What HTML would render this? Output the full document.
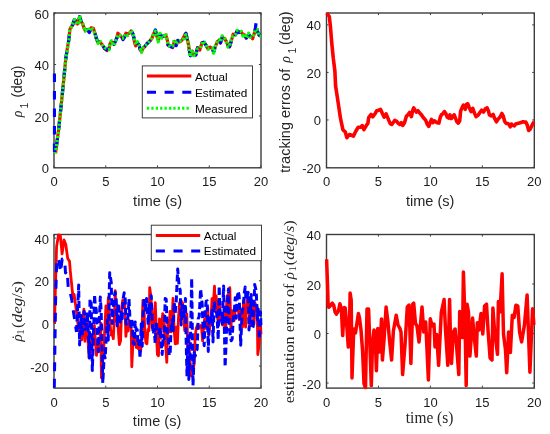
<!DOCTYPE html>
<html><head><meta charset="utf-8"><style>
html,body{margin:0;padding:0;background:#fff;}
body{width:550px;height:434px;overflow:hidden;}
svg{display:block;}
</style></head><body>
<svg width="550" height="434" viewBox="0 0 550 434">
<rect width="550" height="434" fill="#fff"/>
<defs>
<clipPath id="c1"><rect x="52.5" y="11.5" width="210" height="157.5"/></clipPath>
<clipPath id="c2"><rect x="325.0" y="11.5" width="210.79999999999995" height="157.5"/></clipPath>
<clipPath id="c3"><rect x="52.5" y="233.0" width="210" height="156.3"/></clipPath>
<clipPath id="c4"><rect x="325.0" y="233.0" width="210.79999999999995" height="156.3"/></clipPath>
</defs>
<!-- subplot 1 -->
<rect x="54" y="13" width="207" height="154.8" fill="none" stroke="#3d3d3d" stroke-width="1.4"/>
<line x1="54.00" y1="167.5" x2="54.00" y2="165.4" stroke="#3d3d3d" stroke-width="1"/>
<line x1="54.00" y1="13" x2="54.00" y2="15.1" stroke="#3d3d3d" stroke-width="1"/>
<line x1="105.75" y1="167.5" x2="105.75" y2="165.4" stroke="#3d3d3d" stroke-width="1"/>
<line x1="105.75" y1="13" x2="105.75" y2="15.1" stroke="#3d3d3d" stroke-width="1"/>
<line x1="157.50" y1="167.5" x2="157.50" y2="165.4" stroke="#3d3d3d" stroke-width="1"/>
<line x1="157.50" y1="13" x2="157.50" y2="15.1" stroke="#3d3d3d" stroke-width="1"/>
<line x1="209.25" y1="167.5" x2="209.25" y2="165.4" stroke="#3d3d3d" stroke-width="1"/>
<line x1="209.25" y1="13" x2="209.25" y2="15.1" stroke="#3d3d3d" stroke-width="1"/>
<line x1="261.00" y1="167.5" x2="261.00" y2="165.4" stroke="#3d3d3d" stroke-width="1"/>
<line x1="261.00" y1="13" x2="261.00" y2="15.1" stroke="#3d3d3d" stroke-width="1"/>
<line x1="54" y1="167.50" x2="56.1" y2="167.50" stroke="#3d3d3d" stroke-width="1"/>
<line x1="261" y1="167.50" x2="258.9" y2="167.50" stroke="#3d3d3d" stroke-width="1"/>
<line x1="54" y1="116.00" x2="56.1" y2="116.00" stroke="#3d3d3d" stroke-width="1"/>
<line x1="261" y1="116.00" x2="258.9" y2="116.00" stroke="#3d3d3d" stroke-width="1"/>
<line x1="54" y1="64.50" x2="56.1" y2="64.50" stroke="#3d3d3d" stroke-width="1"/>
<line x1="261" y1="64.50" x2="258.9" y2="64.50" stroke="#3d3d3d" stroke-width="1"/>
<line x1="54" y1="13.00" x2="56.1" y2="13.00" stroke="#3d3d3d" stroke-width="1"/>
<line x1="261" y1="13.00" x2="258.9" y2="13.00" stroke="#3d3d3d" stroke-width="1"/>
<g fill="none" stroke-linejoin="round" clip-path="url(#c1)">
<polyline points="55.5,153.3 58.7,129.0 61.1,106.0 63.4,83.0 65.8,58.4 67.4,48.0 69.0,38.8 69.8,29.6 70.9,27.3 72.7,25.0 74.4,19.8 76.1,20.9 77.3,24.0 78.5,22.0 79.6,16.9 80.7,20.4 82.5,23.8 84.2,28.4 85.3,30.7 87.6,29.6 89.4,31.9 91.1,27.9 93.4,28.4 95.1,33.6 96.3,38.8 98.0,42.3 99.7,41.7 102.3,44.8 104.6,48.8 106.9,50.5 109.2,48.2 109.8,44.2 111.5,41.9 113.8,44.2 115.0,41.9 116.7,38.4 117.9,33.2 119.6,35.0 121.9,37.3 123.0,39.0 124.8,36.1 125.9,33.2 127.6,33.8 129.4,33.2 131.1,30.9 132.8,33.8 134.0,38.4 134.6,43.0 135.7,45.9 137.4,42.5 139.2,45.3 140.3,50.0 141.5,51.7 142.6,48.8 144.9,46.5 147.3,43.0 149.6,41.3 151.9,38.4 153.6,33.8 155.4,30.4 156.5,35.0 158.2,40.2 160.0,35.0 161.7,37.3 163.4,36.1 165.7,35.0 167.5,40.7 168.0,45.3 170.3,46.5 172.6,47.6 174.4,41.3 176.1,45.3 177.8,40.7 179.6,41.9 181.9,40.2 184.2,36.1 185.9,33.2 187.0,38.4 188.2,43.0 189.4,51.1 190.5,55.7 192.2,51.1 193.5,54.6 195.8,54.6 197.5,47.6 199.8,50.0 202.1,42.5 203.8,42.5 206.1,45.3 207.9,48.8 210.2,47.1 212.5,48.8 213.6,51.7 215.3,46.5 217.6,41.3 219.4,40.2 220.5,43.0 222.3,37.3 224.6,39.0 226.3,41.3 228.0,45.3 229.6,46.9 231.3,41.1 233.1,34.2 235.4,34.8 237.1,30.7 238.8,32.5 241.1,31.3 242.9,34.8 244.6,34.8 246.3,38.2 248.6,34.8 250.3,35.9 252.6,38.8 254.4,33.0 255.5,28.4 257.3,30.7 259.0,35.3 261.0,34.8" stroke="#ff0000" stroke-width="3.2"/>
<polyline points="54.4,73.4 54.4,153.3 55.5,153.3 58.7,129.0 61.1,106.0 63.4,82.9 65.8,58.5 67.4,48.5 69.0,38.8 69.8,29.6 70.9,27.4 72.7,24.6 74.4,19.8 76.1,21.1 77.3,24.4 78.5,21.5 79.6,16.7 80.7,19.9 82.5,24.2 84.2,28.6 85.3,30.2 87.6,30.2 89.4,32.5 91.1,28.1 93.4,28.5 95.1,33.2 96.3,38.2 98.0,42.3 99.7,41.2 102.3,44.4 104.6,48.5 106.9,49.9 109.2,48.2 109.8,44.1 111.5,42.3 113.8,44.2 115.0,42.1 116.7,38.4 117.9,33.4 119.6,34.9 121.9,37.0 123.0,39.6 124.8,36.7 125.9,33.6 127.6,34.0 129.4,33.0 131.1,30.6 132.8,33.5 134.0,37.9 134.6,43.3 135.7,45.8 137.4,42.9 139.2,45.2 140.3,50.5 141.5,52.1 142.6,48.2 144.9,46.2 147.3,43.5 149.6,41.3 151.9,39.0 153.6,33.7 155.4,29.9 156.5,35.2 158.2,40.5 160.0,34.7 161.7,36.8 163.4,35.9 165.7,35.6 167.5,41.0 168.0,44.8 170.3,46.2 172.6,47.1 174.4,40.8 176.1,45.7 177.8,40.3 179.6,42.0 181.9,40.1 184.2,35.7 185.9,33.5 187.0,38.0 188.2,43.2 189.4,50.6 190.5,55.6 192.2,50.8 193.5,54.3 195.8,55.2 197.5,48.0 199.8,49.8 202.1,43.0 203.8,42.2 206.1,45.2 207.9,49.2 210.2,47.3 212.5,48.3 213.6,52.3 215.3,46.2 217.6,41.0 219.4,40.5 220.5,42.8 222.3,37.1 224.6,38.5 226.3,40.8 228.0,45.4 229.6,46.6 231.3,41.2 233.1,34.0 235.4,34.7 237.1,31.3 238.8,32.5 241.1,31.4 242.9,35.2 244.6,34.4 246.3,37.8 248.6,35.3 250.3,36.3 252.6,38.5 254.4,32.6 255.2,30.0 256.2,21.5 257.0,27.0 257.3,31.2 259.0,34.9 261.0,35.3" stroke="#0000ff" stroke-width="3.2" stroke-dasharray="8.5 9" stroke-dashoffset="0"/>
<polyline points="55.5,153.3 58.7,129.0 61.1,106.0 63.4,83.4 65.8,59.2 67.4,49.0 69.0,40.3 69.8,30.4 70.9,28.7 72.7,23.4 74.4,19.7 76.1,22.4 77.3,24.5 78.5,23.4 79.6,15.6 80.7,20.3 82.5,22.9 84.2,28.5 85.3,31.0 87.6,27.9 89.4,30.9 91.1,27.2 93.4,29.8 95.1,34.5 96.3,37.6 98.0,43.3 99.7,40.5 102.3,45.2 104.6,47.5 106.9,48.8 109.2,49.5 109.8,43.2 111.5,40.9 113.8,45.8 115.0,43.2 116.7,37.7 117.9,34.8 119.6,35.1 121.9,37.9 123.0,38.0 124.8,37.6 125.9,33.8 127.6,35.4 129.4,34.5 131.1,30.2 132.8,33.3 134.0,37.3 134.6,41.8 135.7,44.4 137.4,41.8 139.2,45.7 140.3,48.3 141.5,52.3 142.6,48.2 144.9,45.9 147.3,44.1 149.6,41.2 151.9,37.8 153.6,33.7 155.4,31.1 156.5,33.5 158.2,41.8 160.0,33.4 161.7,38.1 163.4,37.3 165.7,33.4 167.5,41.7 168.0,44.8 170.3,46.8 172.6,45.9 174.4,39.8 176.1,44.2 177.8,42.2 179.6,40.9 181.9,41.1 184.2,37.6 185.9,34.7 187.0,37.9 188.2,42.5 189.4,51.2 190.5,56.6 192.2,49.8 193.5,55.4 195.8,55.6 197.5,48.8 199.8,48.4 202.1,44.0 203.8,41.1 206.1,44.8 207.9,49.2 210.2,48.5 212.5,48.3 213.6,53.1 215.3,46.7 217.6,40.7 219.4,39.6 220.5,41.9 222.3,35.9 224.6,37.8 226.3,41.9 228.0,47.0 229.6,45.7 231.3,39.6 233.1,35.9 235.4,34.9 237.1,30.4 238.8,31.6 241.1,31.6 242.9,35.9 244.6,34.6 246.3,37.9 248.6,33.3 250.3,37.3 252.6,37.2 254.4,33.0 255.5,29.6 257.3,29.4 259.0,36.1 261.0,36.3" stroke="#00ff00" stroke-width="3.4" stroke-dasharray="2.2 1.9" stroke-dashoffset="1"/>
</g>
<!-- subplot 2 -->
<rect x="326.5" y="13" width="207.79999999999995" height="154.8" fill="none" stroke="#3d3d3d" stroke-width="1.4"/>
<line x1="326.50" y1="167.5" x2="326.50" y2="165.4" stroke="#3d3d3d" stroke-width="1"/>
<line x1="326.50" y1="13" x2="326.50" y2="15.1" stroke="#3d3d3d" stroke-width="1"/>
<line x1="378.45" y1="167.5" x2="378.45" y2="165.4" stroke="#3d3d3d" stroke-width="1"/>
<line x1="378.45" y1="13" x2="378.45" y2="15.1" stroke="#3d3d3d" stroke-width="1"/>
<line x1="430.40" y1="167.5" x2="430.40" y2="165.4" stroke="#3d3d3d" stroke-width="1"/>
<line x1="430.40" y1="13" x2="430.40" y2="15.1" stroke="#3d3d3d" stroke-width="1"/>
<line x1="482.35" y1="167.5" x2="482.35" y2="165.4" stroke="#3d3d3d" stroke-width="1"/>
<line x1="482.35" y1="13" x2="482.35" y2="15.1" stroke="#3d3d3d" stroke-width="1"/>
<line x1="534.30" y1="167.5" x2="534.30" y2="165.4" stroke="#3d3d3d" stroke-width="1"/>
<line x1="534.30" y1="13" x2="534.30" y2="15.1" stroke="#3d3d3d" stroke-width="1"/>
<line x1="326.5" y1="167.50" x2="328.6" y2="167.50" stroke="#3d3d3d" stroke-width="1"/>
<line x1="534.3" y1="167.50" x2="532.1999999999999" y2="167.50" stroke="#3d3d3d" stroke-width="1"/>
<line x1="326.5" y1="119.96" x2="328.6" y2="119.96" stroke="#3d3d3d" stroke-width="1"/>
<line x1="534.3" y1="119.96" x2="532.1999999999999" y2="119.96" stroke="#3d3d3d" stroke-width="1"/>
<line x1="326.5" y1="72.42" x2="328.6" y2="72.42" stroke="#3d3d3d" stroke-width="1"/>
<line x1="534.3" y1="72.42" x2="532.1999999999999" y2="72.42" stroke="#3d3d3d" stroke-width="1"/>
<line x1="326.5" y1="24.88" x2="328.6" y2="24.88" stroke="#3d3d3d" stroke-width="1"/>
<line x1="534.3" y1="24.88" x2="532.1999999999999" y2="24.88" stroke="#3d3d3d" stroke-width="1"/>
<g fill="none" stroke-linejoin="round" clip-path="url(#c2)">
<polyline points="326.8,13.2 329.3,16.5 330.4,26.1 331.7,42.3 333.3,58.4 334.9,71.3 335.6,86.1 338.1,102.3 340.5,118.4 342.9,129.7 345.3,132.1 346.9,137.7 349.4,134.5 351.8,135.3 353.4,136.1 355.8,131.3 358.2,127.3 360.6,127.3 362.3,125.6 363.9,129.7 366.3,125.6 367.9,123.2 368.7,117.6 371.1,114.4 372.7,116.8 375.2,113.5 376.8,110.7 378.7,110.2 380.5,109.3 382.4,113.5 384.2,117.1 386.1,113.9 387.5,117.1 388.8,120.4 390.2,123.6 391.6,124.5 393.5,122.2 394.8,120.4 396.7,121.3 398.5,123.6 399.9,124.5 401.3,122.7 402.7,125.4 404.5,122.7 406.4,116.2 408.2,114.4 409.6,112.5 411.4,116.7 412.8,110.2 413.7,107.9 415.1,110.2 416.5,112.1 417.9,110.7 419.3,112.5 421.1,114.4 423.7,118.1 425.5,119.9 427.4,124.5 428.8,126.4 430.1,122.7 431.5,119.4 432.9,122.7 434.3,120.8 435.7,121.8 437.1,122.7 438.9,123.1 440.3,117.1 441.7,114.4 443.1,113.5 444.4,111.6 445.8,113.5 447.2,117.1 448.6,118.1 450.0,114.8 451.4,118.5 452.7,117.1 454.1,114.8 455.5,118.1 456.9,121.8 458.3,123.1 459.7,120.8 460.6,111.1 462.0,107.9 463.4,105.1 465.2,109.3 466.6,104.2 467.8,103.8 469.2,107.5 471.0,111.6 472.8,108.4 474.2,112.5 476.1,116.7 478.4,114.8 480.2,112.1 481.6,110.2 483.5,112.1 485.3,108.8 487.1,107.9 488.5,111.1 489.4,114.8 491.3,115.8 493.1,114.4 494.5,118.1 496.4,121.8 498.2,119.0 500.1,117.1 501.9,113.5 503.3,116.2 504.7,121.5 506.2,123.5 507.8,123.5 509.0,124.4 510.2,126.8 511.5,124.0 512.9,125.3 514.3,125.8 515.7,124.0 517.5,123.5 519.4,123.0 521.2,122.6 523.0,121.7 524.4,122.1 525.8,122.1 527.2,124.9 528.6,130.4 530.0,129.5 531.8,125.8 533.2,123.0 534.0,124.0" stroke="#ff0000" stroke-width="3.6"/>
</g>
<!-- subplot 3 -->
<rect x="54" y="234.5" width="207" height="153.60000000000002" fill="none" stroke="#3d3d3d" stroke-width="1.4"/>
<line x1="54.00" y1="387.8" x2="54.00" y2="385.7" stroke="#3d3d3d" stroke-width="1"/>
<line x1="54.00" y1="234.5" x2="54.00" y2="236.6" stroke="#3d3d3d" stroke-width="1"/>
<line x1="105.75" y1="387.8" x2="105.75" y2="385.7" stroke="#3d3d3d" stroke-width="1"/>
<line x1="105.75" y1="234.5" x2="105.75" y2="236.6" stroke="#3d3d3d" stroke-width="1"/>
<line x1="157.50" y1="387.8" x2="157.50" y2="385.7" stroke="#3d3d3d" stroke-width="1"/>
<line x1="157.50" y1="234.5" x2="157.50" y2="236.6" stroke="#3d3d3d" stroke-width="1"/>
<line x1="209.25" y1="387.8" x2="209.25" y2="385.7" stroke="#3d3d3d" stroke-width="1"/>
<line x1="209.25" y1="234.5" x2="209.25" y2="236.6" stroke="#3d3d3d" stroke-width="1"/>
<line x1="261.00" y1="387.8" x2="261.00" y2="385.7" stroke="#3d3d3d" stroke-width="1"/>
<line x1="261.00" y1="234.5" x2="261.00" y2="236.6" stroke="#3d3d3d" stroke-width="1"/>
<line x1="54" y1="366.05" x2="56.1" y2="366.05" stroke="#3d3d3d" stroke-width="1"/>
<line x1="261" y1="366.05" x2="258.9" y2="366.05" stroke="#3d3d3d" stroke-width="1"/>
<line x1="54" y1="323.40" x2="56.1" y2="323.40" stroke="#3d3d3d" stroke-width="1"/>
<line x1="261" y1="323.40" x2="258.9" y2="323.40" stroke="#3d3d3d" stroke-width="1"/>
<line x1="54" y1="280.75" x2="56.1" y2="280.75" stroke="#3d3d3d" stroke-width="1"/>
<line x1="261" y1="280.75" x2="258.9" y2="280.75" stroke="#3d3d3d" stroke-width="1"/>
<line x1="54" y1="238.10" x2="56.1" y2="238.10" stroke="#3d3d3d" stroke-width="1"/>
<line x1="261" y1="238.10" x2="258.9" y2="238.10" stroke="#3d3d3d" stroke-width="1"/>
<g fill="none" stroke-linejoin="round" clip-path="url(#c3)">
<polyline points="54.6,323.4 55.1,300.0 55.8,274.0 56.6,246.4 58.5,235.0 60.3,235.4 62.1,253.8 64.0,240.0 65.8,244.6 67.7,258.4 69.5,261.2 70.4,272.2 72.3,290.7 73.2,298.0 74.1,294.4 76.0,308.0 77.6,320.5 78.6,330.6 79.7,326.8 80.7,335.9 81.8,339.9 82.8,317.8 83.9,309.1 84.9,341.3 86.0,326.9 87.0,321.7 88.0,340.0 89.1,358.0 90.2,341.5 91.2,352.4 92.3,340.9 93.3,344.6 94.4,325.6 95.4,340.6 96.5,355.3 97.5,345.6 98.6,351.5 99.6,349.7 100.7,323.1 101.4,377.8 102.8,359.7 103.8,346.8 104.9,326.8 105.9,306.0 107.0,331.5 108.3,297.6 109.1,310.5 110.1,324.5 111.2,335.2 112.2,331.3 113.3,338.7 114.3,318.6 115.2,290.7 116.4,320.9 117.5,314.8 118.5,333.4 119.4,344.6 120.6,340.5 121.7,307.5 122.7,300.1 123.5,303.2 124.8,304.0 125.9,336.4 126.9,325.2 128.0,331.0 129.0,320.2 130.1,326.8 131.1,324.8 131.8,366.8 133.2,337.2 134.3,336.4 135.3,335.3 136.4,347.6 137.4,341.1 138.5,348.7 139.5,347.1 140.6,351.7 141.7,339.2 142.9,300.4 143.8,301.5 144.8,330.5 145.9,343.1 146.9,343.8 148.0,329.4 149.0,330.7 149.7,287.7 151.1,297.8 152.2,327.7 153.2,326.6 154.3,314.8 155.3,302.7 156.4,333.0 157.4,354.5 158.5,355.8 159.5,319.0 160.6,338.2 161.6,327.6 162.7,313.6 163.7,315.6 164.8,336.3 165.8,347.0 166.8,362.3 167.9,320.3 169.0,331.8 170.0,311.5 171.1,331.9 172.1,320.5 173.0,298.5 174.2,331.0 175.3,343.9 176.3,327.1 177.4,343.4 178.4,319.6 179.5,302.9 180.5,320.0 181.6,301.5 182.6,303.2 183.7,315.1 184.7,330.6 185.8,319.1 186.8,313.8 187.9,349.8 188.9,336.7 189.7,357.6 191.5,376.0 193.1,371.1 194.2,362.9 195.2,335.7 196.3,328.1 197.3,325.4 198.4,328.1 199.4,327.4 200.5,325.4 201.5,327.2 202.6,340.9 203.6,326.5 204.7,318.8 205.7,328.4 206.8,310.8 207.8,307.9 208.9,335.2 209.9,324.0 211.0,321.8 212.0,298.6 213.1,308.6 214.5,286.1 215.2,311.8 216.2,296.0 217.3,316.3 218.3,323.0 219.4,301.0 220.4,318.3 221.5,316.7 222.5,325.1 223.6,313.9 224.6,325.5 225.7,330.2 226.7,301.6 227.8,294.6 228.8,318.4 229.8,287.7 230.9,328.4 232.0,310.7 233.0,314.0 234.1,320.7 235.1,311.2 236.2,310.3 237.2,307.8 238.3,309.4 239.3,319.5 240.4,310.1 241.4,310.5 242.5,327.2 243.5,300.9 244.6,315.8 245.6,327.2 246.9,298.5 247.7,304.2 248.8,302.2 249.8,326.0 250.9,309.4 251.9,302.3 253.0,310.6 254.0,324.1 255.1,303.1 256.1,306.1 257.2,307.4 257.8,354.5 259.3,343.0 260.3,322.9 261.4,334.4" stroke="#ff0000" stroke-width="2.8"/>
<polyline points="54.3,387.8 55.6,300.0 56.8,258.5 58.2,259.0 59.2,262.0 60.5,272.0 62.2,259.0 63.8,260.0 64.8,262.0 65.5,273.0 66.5,271.0 67.5,276.0 68.2,287.0 69.5,290.0 70.5,294.0 71.8,300.0 73.5,312.0 75.0,322.0 76.5,332.0" stroke="#0000ff" stroke-width="3" stroke-dasharray="9 7.5"/>
<polyline points="76.5,332.0 78.7,285.0 79.6,345.0 80.2,328.3 81.2,315.5 82.2,335.8 83.0,324.6 84.2,311.3 85.2,329.5 86.2,327.1 87.2,311.9 88.2,328.9 89.3,358.0 90.0,299.0 91.2,303.5 92.3,370.6 93.2,344.5 94.6,294.6 95.2,305.0 96.2,309.5 97.2,327.1 98.2,351.7 99.2,324.8 100.3,297.0 101.2,312.3 102.8,383.0 104.2,355.0 105.2,357.9 106.2,338.0 107.2,320.2 108.2,340.2 109.7,272.8 111.2,282.2 112.2,323.5 113.2,308.7 114.2,297.1 115.2,292.2 116.2,299.6 117.2,325.9 118.2,303.3 119.2,315.4 120.2,321.9 121.2,312.3 122.2,318.6 123.2,298.2 124.2,292.8 125.2,298.9 126.2,324.3 127.2,321.0 128.2,315.8 129.0,299.0 130.2,324.4 131.2,326.7 132.2,321.2 133.2,343.6 134.2,344.4 135.2,322.1 136.2,330.4 137.2,329.7 138.2,345.4 139.2,342.3 140.0,358.5 141.2,324.1 142.2,346.3 143.2,311.4 144.2,297.6 145.2,310.1 146.6,298.5 148.2,324.9 149.2,303.7 150.2,313.2 151.2,295.8 152.2,321.2 153.2,334.1 154.2,329.5 155.2,343.3 156.2,321.4 157.2,333.6 158.2,333.2 159.2,333.1 160.2,327.7 161.2,344.3 162.2,354.4 163.2,335.2 164.2,338.6 165.2,298.5 166.2,299.2 167.2,330.0 168.2,336.8 169.2,355.5 170.2,352.7 171.2,324.6 172.2,319.9 173.2,330.8 174.2,302.1 175.2,313.2 176.2,301.8 177.7,269.0 179.2,287.2 180.2,290.1 181.2,324.9 182.2,305.2 183.2,305.8 184.2,316.5 185.4,298.5 186.2,342.5 187.0,376.3 188.2,333.5 188.8,379.4 190.2,350.8 191.7,278.3 193.0,385.6 194.2,352.6 195.2,356.1 196.2,351.3 197.2,349.1 198.2,318.6 199.2,316.6 200.6,289.2 202.2,304.3 203.2,333.7 204.2,345.7 205.2,310.7 206.2,301.2 207.2,300.8 208.3,351.4 209.2,315.4 210.2,316.4 211.2,321.8 212.2,307.8 213.0,342.0 214.2,301.6 215.2,309.2 216.2,309.1 217.2,318.5 218.2,339.7 219.2,286.0 220.2,317.5 221.2,318.6 222.2,323.8 223.6,286.0 225.1,367.0 226.2,341.1 227.2,303.7 228.5,289.0 229.2,328.3 230.2,334.4 231.2,340.8 232.2,339.0 233.2,319.2 234.2,313.5 235.2,297.8 236.2,318.3 237.2,297.3 238.2,291.2 239.2,296.1 240.7,345.2 242.2,310.1 243.2,308.0 244.2,293.7 245.2,286.9 246.0,300.0 247.2,296.0 248.2,292.4 249.0,330.0 250.2,315.1 251.2,294.5 252.2,328.8 253.2,326.7 254.7,284.5 256.2,291.2 257.5,320.0 258.2,306.8 259.3,339.0 260.5,312.0 261.5,328.0" stroke="#0000ff" stroke-width="3" stroke-dasharray="7 3.5"/>
</g>
<!-- subplot 4 -->
<rect x="326.5" y="234.5" width="207.79999999999995" height="153.60000000000002" fill="none" stroke="#3d3d3d" stroke-width="1.4"/>
<line x1="326.50" y1="387.8" x2="326.50" y2="385.7" stroke="#3d3d3d" stroke-width="1"/>
<line x1="326.50" y1="234.5" x2="326.50" y2="236.6" stroke="#3d3d3d" stroke-width="1"/>
<line x1="378.45" y1="387.8" x2="378.45" y2="385.7" stroke="#3d3d3d" stroke-width="1"/>
<line x1="378.45" y1="234.5" x2="378.45" y2="236.6" stroke="#3d3d3d" stroke-width="1"/>
<line x1="430.40" y1="387.8" x2="430.40" y2="385.7" stroke="#3d3d3d" stroke-width="1"/>
<line x1="430.40" y1="234.5" x2="430.40" y2="236.6" stroke="#3d3d3d" stroke-width="1"/>
<line x1="482.35" y1="387.8" x2="482.35" y2="385.7" stroke="#3d3d3d" stroke-width="1"/>
<line x1="482.35" y1="234.5" x2="482.35" y2="236.6" stroke="#3d3d3d" stroke-width="1"/>
<line x1="534.30" y1="387.8" x2="534.30" y2="385.7" stroke="#3d3d3d" stroke-width="1"/>
<line x1="534.30" y1="234.5" x2="534.30" y2="236.6" stroke="#3d3d3d" stroke-width="1"/>
<line x1="326.5" y1="383.00" x2="328.6" y2="383.00" stroke="#3d3d3d" stroke-width="1"/>
<line x1="534.3" y1="383.00" x2="532.1999999999999" y2="383.00" stroke="#3d3d3d" stroke-width="1"/>
<line x1="326.5" y1="333.50" x2="328.6" y2="333.50" stroke="#3d3d3d" stroke-width="1"/>
<line x1="534.3" y1="333.50" x2="532.1999999999999" y2="333.50" stroke="#3d3d3d" stroke-width="1"/>
<line x1="326.5" y1="284.00" x2="328.6" y2="284.00" stroke="#3d3d3d" stroke-width="1"/>
<line x1="534.3" y1="284.00" x2="532.1999999999999" y2="284.00" stroke="#3d3d3d" stroke-width="1"/>
<line x1="326.5" y1="234.50" x2="328.6" y2="234.50" stroke="#3d3d3d" stroke-width="1"/>
<line x1="534.3" y1="234.50" x2="532.1999999999999" y2="234.50" stroke="#3d3d3d" stroke-width="1"/>
<g fill="none" stroke-linejoin="round" clip-path="url(#c4)">
<polyline points="326.6,259.3 327.5,283.3 328.1,303.8 328.8,307.3 330.2,305.9 332.3,303.1 333.7,305.2 335.1,312.1 336.4,314.2 338.5,310.7 339.9,303.8 341.3,308.0 342.7,335.6 344.3,307.5 345.2,308.0 346.5,322.0 348.3,347.0 349.2,344.0 350.1,293.0 351.2,300.0 352.0,378.0 353.2,345.0 353.8,329.0 355.5,333.0 358.4,313.5 359.5,318.0 361.0,330.0 362.5,350.0 364.0,383.7 365.5,388.0 367.0,309.0 368.6,309.0 369.5,334.0 371.3,385.6 372.5,345.0 374.0,330.0 375.0,332.0 376.4,370.8 377.8,328.4 379.6,352.0 381.5,319.0 382.4,360.0 384.0,340.0 386.1,306.9 387.9,321.6 389.5,340.0 391.6,360.0 393.4,331.0 396.2,315.2 398.0,325.0 399.9,328.4 401.0,332.0 402.6,374.5 405.0,345.0 407.3,306.9 409.1,305.0 410.9,363.5 412.8,304.1 413.7,303.2 415.5,323.5 417.0,326.0 419.0,342.0 422.0,306.9 423.8,332.0 425.7,322.0 428.4,380.0 430.3,318.8 432.1,326.0 434.0,324.0 435.0,347.0 436.7,334.5 438.6,365.3 441.3,312.4 444.1,299.5 445.5,330.0 447.8,365.3 449.6,299.6 450.5,340.0 451.5,363.5 453.3,332.1 455.1,329.0 456.5,345.0 458.8,374.5 459.7,311.6 461.5,315.0 462.5,337.6 463.4,272.0 465.0,320.0 466.2,385.6 467.1,304.2 468.5,312.0 469.9,356.1 472.6,318.1 474.0,335.0 476.3,356.1 477.3,322.7 479.0,330.0 481.0,313.5 482.8,334.0 484.6,306.0 486.5,304.2 488.0,330.0 490.1,358.0 492.0,360.0 492.9,308.0 494.5,330.0 497.5,354.2 498.4,301.5 500.0,312.0 502.1,273.8 503.5,334.0 505.5,350.0 506.7,372.7 508.6,332.1 510.4,352.4 512.3,315.3 514.1,317.4 515.9,305.2 517.8,306.1 519.6,332.1 521.6,341.9 524.4,325.3 527.1,294.9 529.9,372.3 532.6,308.7 534.0,325.0" stroke="#ff0000" stroke-width="3.5"/>
</g>

<g font-family='"Liberation Sans", Arial, Helvetica, sans-serif' font-size="13" fill="#1a1a1a">
<text x="54.00" y="186.4" text-anchor="middle">0</text>
<text x="105.75" y="186.4" text-anchor="middle">5</text>
<text x="157.50" y="186.4" text-anchor="middle">10</text>
<text x="209.25" y="186.4" text-anchor="middle">15</text>
<text x="261.00" y="186.4" text-anchor="middle">20</text>
<text x="326.50" y="186.4" text-anchor="middle">0</text>
<text x="378.45" y="186.4" text-anchor="middle">5</text>
<text x="430.40" y="186.4" text-anchor="middle">10</text>
<text x="482.35" y="186.4" text-anchor="middle">15</text>
<text x="534.30" y="186.4" text-anchor="middle">20</text>
<text x="54.00" y="407" text-anchor="middle">0</text>
<text x="105.75" y="407" text-anchor="middle">5</text>
<text x="157.50" y="407" text-anchor="middle">10</text>
<text x="209.25" y="407" text-anchor="middle">15</text>
<text x="261.00" y="407" text-anchor="middle">20</text>
<text x="49" y="173.00" text-anchor="end">0</text>
<text x="49" y="121.50" text-anchor="end">20</text>
<text x="49" y="70.00" text-anchor="end">40</text>
<text x="49" y="18.50" text-anchor="end">60</text>
<text x="321" y="173.00" text-anchor="end">-20</text>
<text x="321" y="125.46" text-anchor="end">0</text>
<text x="321" y="77.92" text-anchor="end">20</text>
<text x="321" y="30.38" text-anchor="end">40</text>
<text x="49" y="371.55" text-anchor="end">-20</text>
<text x="49" y="328.90" text-anchor="end">0</text>
<text x="49" y="286.25" text-anchor="end">20</text>
<text x="49" y="243.60" text-anchor="end">40</text>
</g>
<g font-family='"Liberation Sans", Arial, Helvetica, sans-serif' font-size="13" fill="#1a1a1a">
<text x="326.50" y="407" text-anchor="middle">0</text>
<text x="378.45" y="407" text-anchor="middle">5</text>
<text x="430.40" y="407" text-anchor="middle">10</text>
<text x="482.35" y="407" text-anchor="middle">15</text>
<text x="534.30" y="407" text-anchor="middle">20</text>
<text x="321" y="388.50" text-anchor="end">-20</text>
<text x="321" y="339.00" text-anchor="end">0</text>
<text x="321" y="289.50" text-anchor="end">20</text>
<text x="321" y="240.00" text-anchor="end">40</text>
</g>
<!-- axis labels -->
<g font-family='"Liberation Sans", Arial, Helvetica, sans-serif' font-size="14.5" fill="#262626">
<text x="157.6" y="206.1" text-anchor="middle" textLength="49" lengthAdjust="spacingAndGlyphs">time (s)</text>
<text x="430.2" y="206.1" text-anchor="middle" textLength="48.5" lengthAdjust="spacingAndGlyphs">time (s)</text>
<text x="157.1" y="425.8" text-anchor="middle" textLength="48.5" lengthAdjust="spacingAndGlyphs">time (s)</text>
<text transform="translate(22,97.6) rotate(-90)" textLength="32" lengthAdjust="spacingAndGlyphs">(deg)</text>
<text transform="translate(22.2,117.3) rotate(-90)" font-family='"Liberation Serif", serif' font-style="italic" font-size="14">&#961;</text>
<text transform="translate(28.2,108.4) rotate(-90)" font-size="10.5">1</text>
<text transform="translate(290,172.8) rotate(-90)" textLength="104" lengthAdjust="spacingAndGlyphs">tracking erros of</text>
<text transform="translate(290.2,62.8) rotate(-90)" font-family='"Liberation Serif", serif' font-style="italic" font-size="14">&#961;</text>
<text transform="translate(296.3,53.6) rotate(-90)" font-size="10.5">1</text>
<text transform="translate(290,45) rotate(-90)" textLength="33.5" lengthAdjust="spacingAndGlyphs">(deg)</text>
</g>
<g font-family='"Liberation Serif", "Times New Roman", serif' font-size="16" fill="#262626">
<text x="429.6" y="422.8" text-anchor="middle" textLength="47.5" lengthAdjust="spacingAndGlyphs">time (s)</text>
<text transform="translate(21.9,341.6) rotate(-90)" font-size="15" font-style="italic">&#961;</text>
<text transform="translate(21.9,337.2) rotate(-90)" font-size="15" text-anchor="middle">&#729;</text>
<text transform="translate(23.7,334.4) rotate(-90)" font-size="10">1</text>
<text transform="translate(21.9,327.9) rotate(-90)" font-size="15" textLength="46.9" lengthAdjust="spacingAndGlyphs">(<tspan font-style="italic">deg</tspan>/<tspan font-style="italic">s</tspan>)</text>
<text transform="translate(294.2,403.3) rotate(-90)" font-size="15" textLength="119.6" lengthAdjust="spacingAndGlyphs">estimation error of</text>
<text transform="translate(294.2,279.2) rotate(-90)" font-size="15" font-style="italic">&#961;</text>
<text transform="translate(294.2,274.6) rotate(-90)" font-size="15" text-anchor="middle">&#729;</text>
<text transform="translate(296.4,271.2) rotate(-90)" font-size="10">1</text>
<text transform="translate(294.2,265.2) rotate(-90)" font-size="15" textLength="44.8" lengthAdjust="spacingAndGlyphs">(<tspan font-style="italic">deg</tspan>/<tspan font-style="italic">s</tspan>)</text>
</g>

<!-- legend 1 -->
<rect x="142.3" y="65.9" width="110.2" height="52" fill="#fff" stroke="#3d3d3d" stroke-width="1"/>
<line x1="146.9" y1="76.1" x2="191.3" y2="76.1" stroke="#ff0000" stroke-width="3"/>
<line x1="146.9" y1="92.3" x2="191.3" y2="92.3" stroke="#0000ff" stroke-width="3" stroke-dasharray="9.1 8.6"/>
<line x1="146.9" y1="108.3" x2="189.5" y2="108.3" stroke="#00ff00" stroke-width="3" stroke-dasharray="2.3 2.1"/>
<g font-family='"Liberation Sans", Arial, Helvetica, sans-serif' font-size="11.75" fill="#000">
<text x="195" y="80.8">Actual</text>
<text x="195" y="96.6">Estimated</text>
<text x="195" y="113.2">Measured</text>
</g>
<!-- legend 3 -->
<rect x="151.3" y="225.2" width="110.2" height="35.5" fill="#fff" stroke="#3d3d3d" stroke-width="1"/>
<line x1="155.8" y1="235.4" x2="200.2" y2="235.4" stroke="#ff0000" stroke-width="3"/>
<line x1="155.8" y1="251" x2="200.2" y2="251" stroke="#0000ff" stroke-width="3" stroke-dasharray="9.1 8.6"/>
<g font-family='"Liberation Sans", Arial, Helvetica, sans-serif' font-size="11.75" fill="#000">
<text x="203.8" y="240.1">Actual</text>
<text x="203.8" y="255.4">Estimated</text>
</g>
</svg>
</body></html>
